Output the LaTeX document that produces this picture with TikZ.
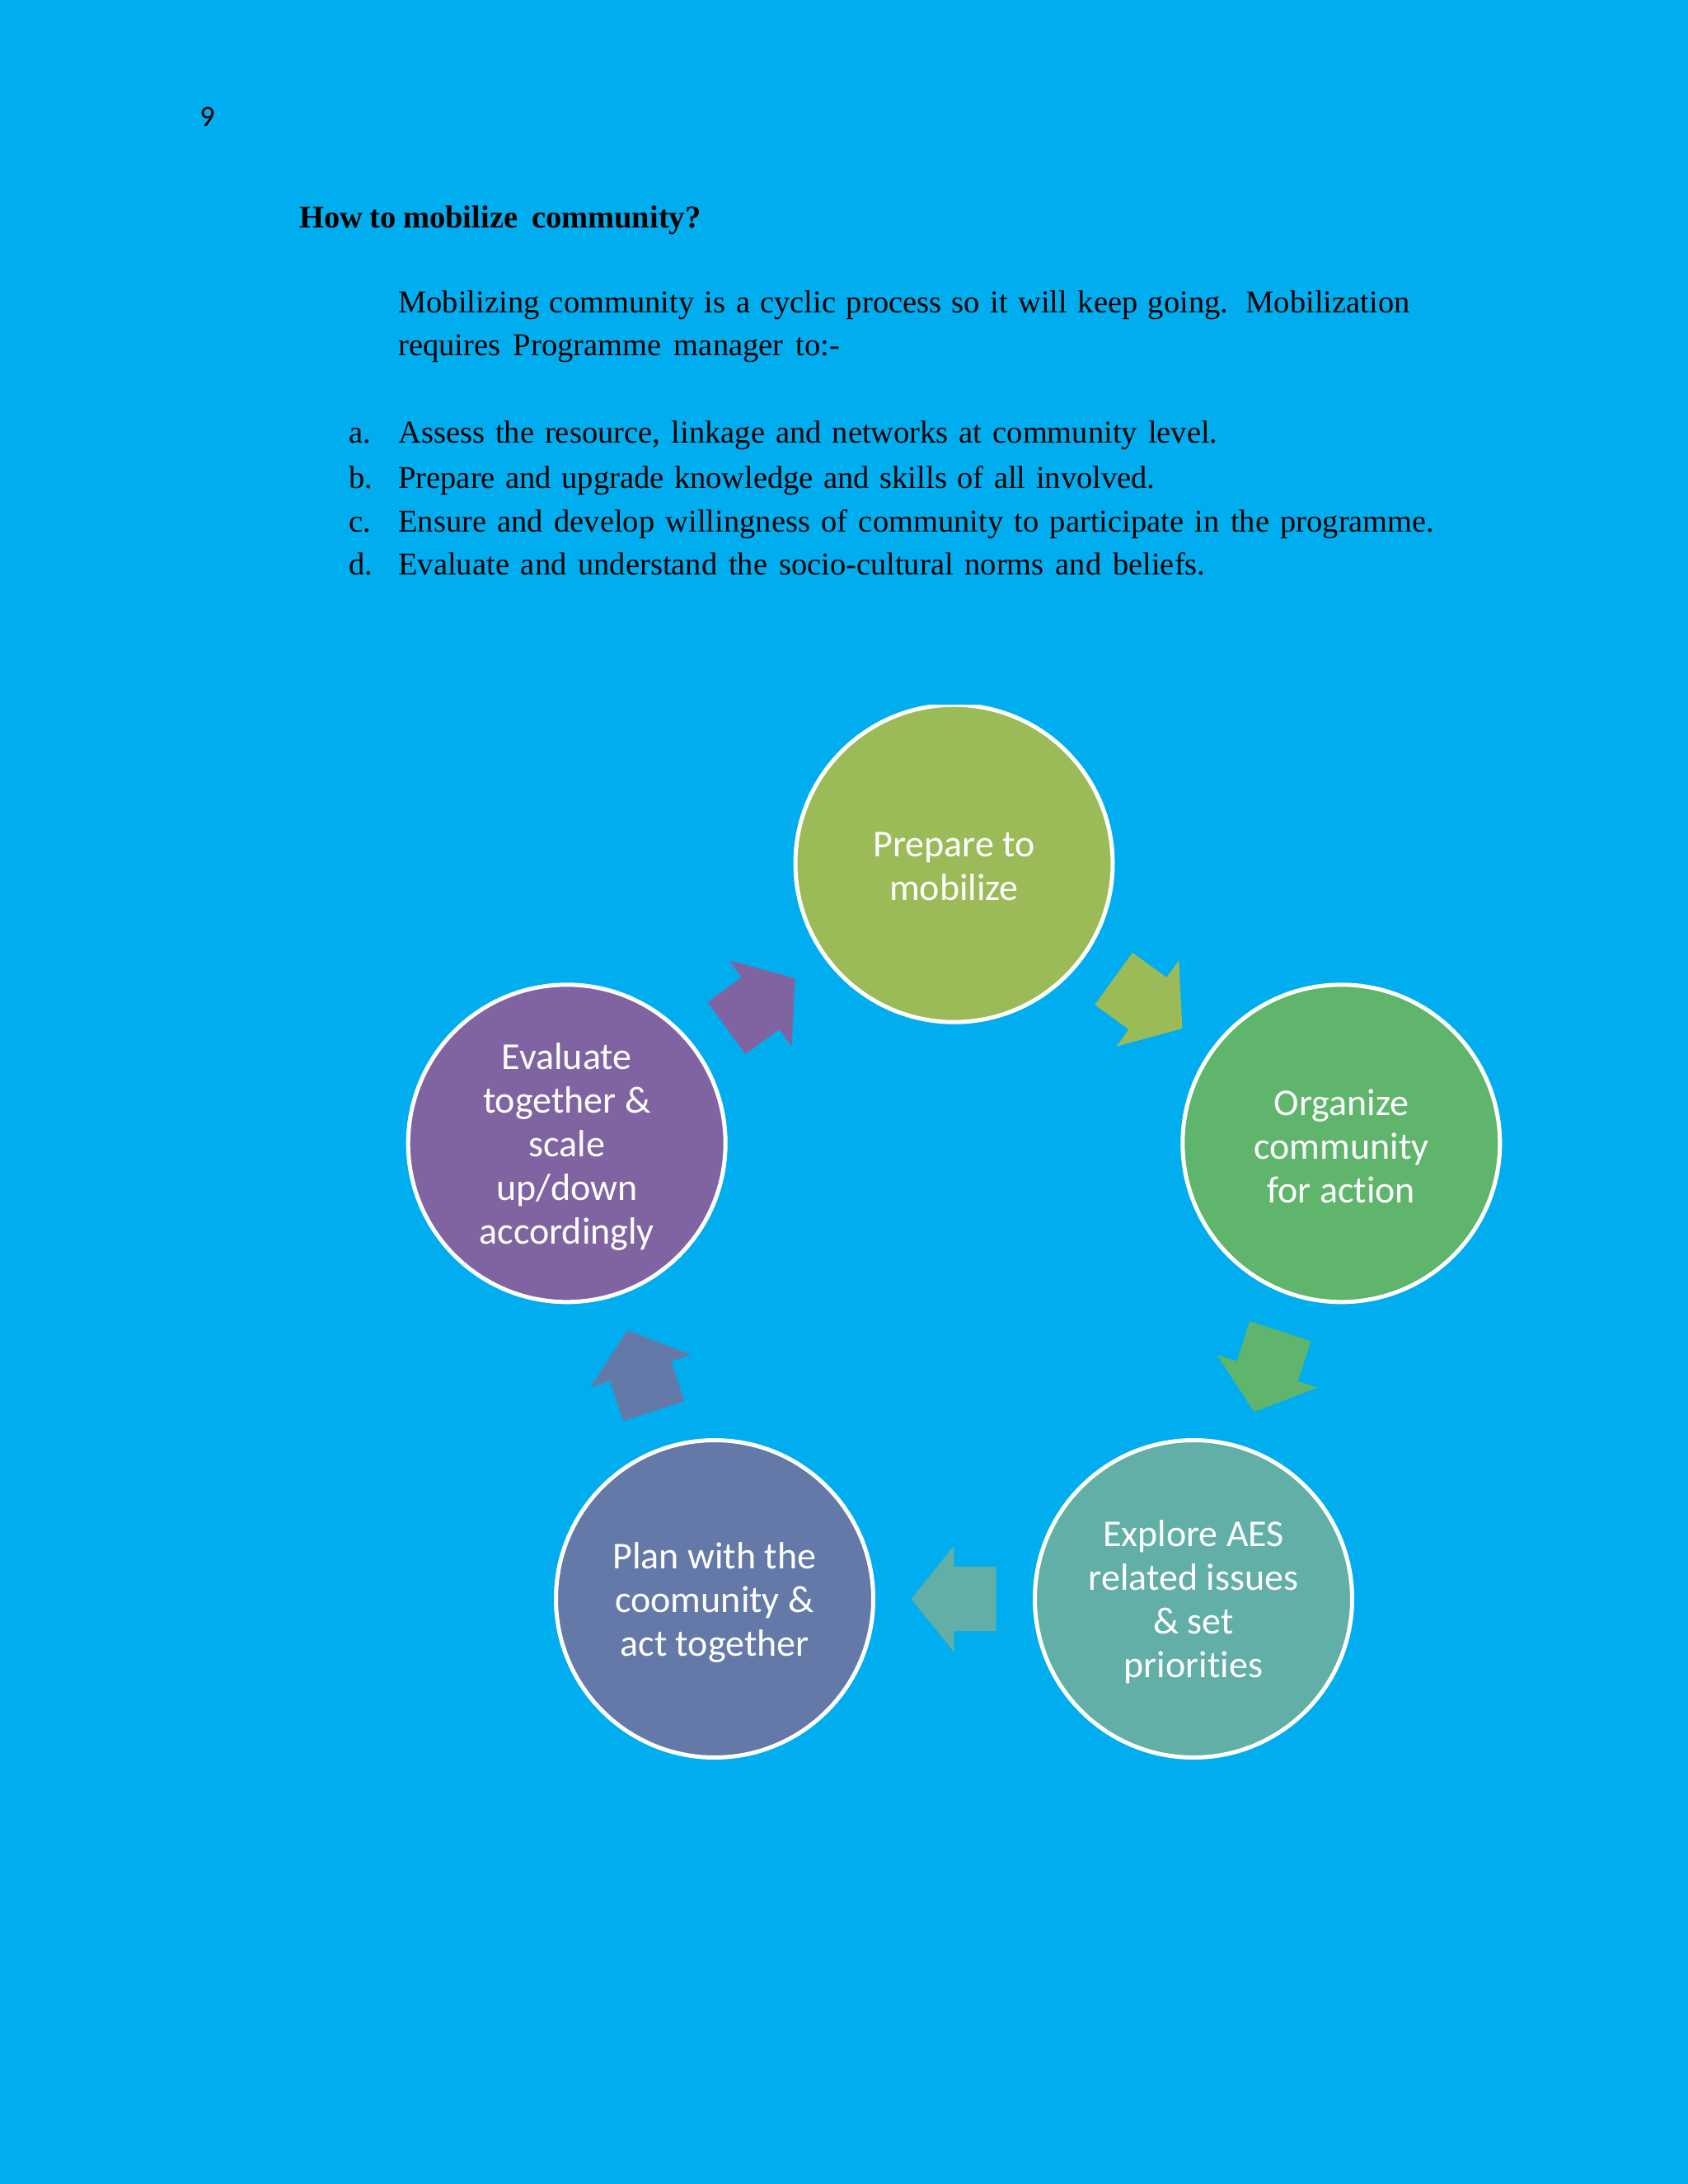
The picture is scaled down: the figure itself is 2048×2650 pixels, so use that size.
\documentclass[tikz,border=0pt]{standalone}
\usepackage{fontspec}
\setmainfont{Liberation Serif}
\newfontfamily\calib[Ligatures={NoCommon}]{Carlito}
\usetikzlibrary{calc}
\definecolor{bg}{HTML}{00AEEF}
\definecolor{cPrep}{HTML}{9BBB59}
\definecolor{cOrg}{HTML}{5FB56B}
\definecolor{cExp}{HTML}{61AFA6}
\definecolor{cPlan}{HTML}{6479A8}
\definecolor{cEval}{HTML}{8064A2}
\newcommand\cycarrow[4]{%
  \begin{scope}[shift={($(#1)!0.5!(#2)$)}, rotate=#3]
    \fill[#4] (-51,-39) -- (0,-39) -- (0,-64.5) -- (52,0) -- (0,64.5) -- (0,39) -- (-51,39) -- cycle;
  \end{scope}}
\begin{document}
\begin{tikzpicture}[x=0.5pt,y=-0.5pt,
  stage/.style={circle, draw=white, line width=2.5pt, minimum size=192.5pt, inner sep=0pt},
  stagetext/.style={inner sep=0pt, yshift=-2pt, align=center, text=white,
    font=\calib\fontsize{23}{26.5}\selectfont},
  body/.style={anchor=base west, inner sep=0pt, font=\fontsize{19.25}{23}\selectfont}]
\fill[bg] (0,0) rectangle (2048,2650);
\useasboundingbox (0,0) rectangle (2048,2650);
\node[anchor=base west, inner sep=0pt, font=\calib\fontsize{18}{20}\selectfont] (pg) at (242,153) {9};
\node[body, font=\bfseries\fontsize{19.25}{23}\selectfont] (head) at (363,276) {\makebox[243.5pt][s]{How to mobilize \ community?}};
\node[body] (p1) at (483,379) {\makebox[613.5pt][s]{Mobilizing community is a cyclic process so it will keep going. Mobilization}};
\node[body] (p2) at (483,431) {\makebox[268pt][s]{requires Programme manager to:-}};
\node[body] (la) at (423,537) {a.};
\node[body] (ia) at (483,537) {\makebox[497pt][s]{Assess the resource, linkage and networks at community level.}};
\node[body] (lb) at (423,592) {b.};
\node[body] (ib) at (483,592) {\makebox[459pt][s]{Prepare and upgrade knowledge and skills of all involved.}};
\node[body] (lc) at (423,645) {c.};
\node[body] (ic) at (483,645) {\makebox[628.5pt][s]{Ensure and develop willingness of community to participate in the programme.}};
\node[body] (ld) at (423,697) {d.};
\node[body] (id) at (483,697) {\makebox[489.5pt][s]{Evaluate and understand the socio-cultural norms and beliefs.}};
\begin{scope}
\clip (0,855) rectangle (2048,2650);
\node[stage, fill=cPrep] (prep) at (1157.5,1047.7) {};
\node[stage, fill=cOrg] (org) at (1627.3,1387.3) {};
\node[stage, fill=cExp] (exp) at (1448,1940) {};
\node[stage, fill=cPlan] (plan) at (867,1940) {};
\node[stage, fill=cEval] (eval) at (687.7,1387.3) {};
\end{scope}
\node[stagetext] (prept) at (prep) {Prepare to\\mobilize};
\node[stagetext] (orgt) at (org) {Organize\\community\\for action};
\node[stagetext] (expt) at (exp) {Explore AES\\related issues\\\& set\\priorities};
\node[stagetext] (plant) at (plan) {Plan with the\\coomunity \&\\act together};
\node[stagetext] (evalt) at (eval) {Evaluate\\together \&\\scale\\up/down\\accordingly};
\cycarrow{prep}{org}{-36}{cPrep}
\cycarrow{org}{exp}{-108}{cOrg}
\cycarrow{exp}{plan}{180}{cExp}
\cycarrow{plan}{eval}{108}{cPlan}
\cycarrow{eval}{prep}{36}{cEval}
\end{tikzpicture}
\end{document}
